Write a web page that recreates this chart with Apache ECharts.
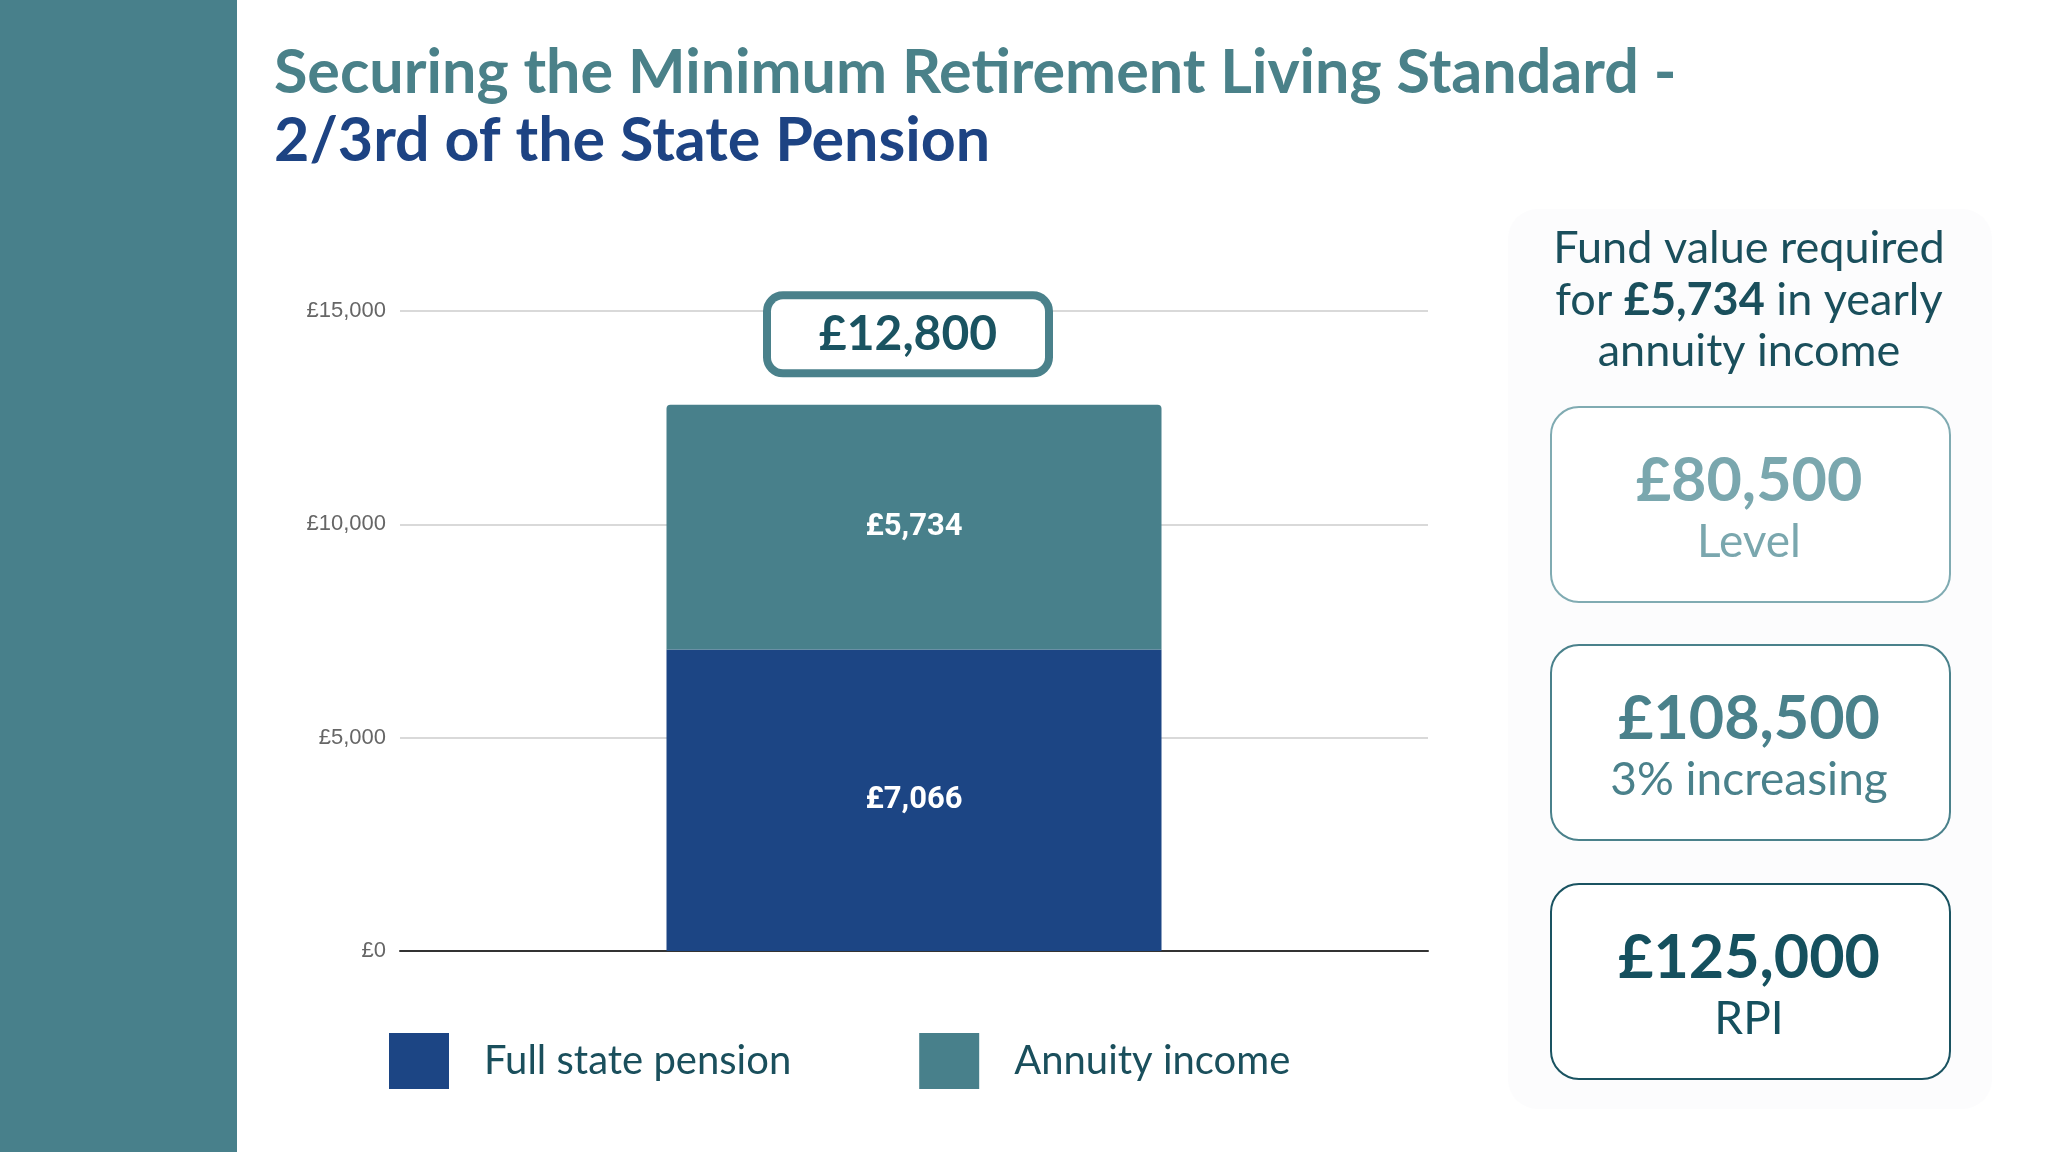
<!DOCTYPE html>
<html>
<head>
<meta charset="utf-8">
<script src="https://cdn.jsdelivr.net/npm/echarts@6/dist/echarts.min.js"></script>
<style>
html,body{margin:0;padding:0;background:#ffffff;}
#chart{width:2048px;height:1152px;}
</style>
</head>
<body>
<div id="chart"></div>
<script>
// ---- data ----
var categories = ['Minimum'];
var statePension = [7066];
var annuityIncome = [5734];
var seriesNames = ['Full state pension', 'Annuity income'];
var yTicks = [0, 5000, 10000, 15000];
var titleLines = ['Securing the Minimum Retirement Living Standard -', '2/3rd of the State Pension'];
var fundValues = ['£80,500', '£108,500', '£125,000'];
var fundTypes = ['Level', '3% increasing', 'RPI'];
var annuityTarget = '£5,734';

var totals = statePension.map(function (v, i) { return v + annuityIncome[i]; });
function gbp(v) { return '£' + Number(v).toLocaleString('en-GB'); }

var chart = echarts.init(document.getElementById('chart'));

var boxStroke = ['#80abb2', '#4a818b', '#1a5361'];
var boxText = ['#7aa7ae', '#4a818b', '#15505e'];
var boxTop = [406, 644, 883];

var graphics = [
  { type: 'rect', left: 0, top: 0, shape: { width: 237, height: 1152 }, style: { fill: '#48808b' }, z: -10 },
  { type: 'rect', left: 1508, top: 209, shape: { width: 484, height: 900, r: 30 }, style: { fill: '#fcfcfd' }, z: -10 },
  { type: 'text', x: 1749, y: 248, style: { text: 'Fund value required', font: '45px Lato', fill: '#1a4f5c', textAlign: 'center', textVerticalAlign: 'middle' } },
  { type: 'text', x: 1749, y: 300, style: {
      text: 'for {b|' + annuityTarget + '} in yearly', font: '45px Lato', fill: '#1a4f5c', textAlign: 'center', textVerticalAlign: 'middle',
      rich: { b: { fontFamily: 'Lato', fontSize: 45, fontWeight: 'bold', fill: '#1a4f5c' } } } },
  { type: 'text', x: 1749, y: 351, style: { text: 'annuity income', font: '45px Lato', fill: '#1a4f5c', textAlign: 'center', textVerticalAlign: 'middle' } }
];
fundValues.forEach(function (v, i) {
  graphics.push({ type: 'rect', left: 1550, top: boxTop[i], shape: { width: 399, height: 195, r: 28 },
    style: { fill: '#ffffff', stroke: boxStroke[i], lineWidth: 2 } });
  graphics.push({ type: 'text', x: 1749, y: boxTop[i] + 75, style: { text: v, font: 'bold 61px Lato', fill: boxText[i], textAlign: 'center', textVerticalAlign: 'middle' } });
  graphics.push({ type: 'text', x: 1749, y: boxTop[i] + 136, style: { text: fundTypes[i], font: '46px Lato', fill: boxText[i], textAlign: 'center', textVerticalAlign: 'middle' } });
});

var option = {
  backgroundColor: '#ffffff',
  animation: false,
  title: [
    { text: titleLines[0], left: 269, top: 38, textStyle: { fontFamily: 'Lato', fontWeight: 'bold', fontSize: 61, color: '#4a8189' } },
    { text: titleLines[1], left: 269, top: 106, textStyle: { fontFamily: 'Lato', fontWeight: 'bold', fontSize: 61, color: '#1d4383' } }
  ],
  legend: {
    data: seriesNames,
    left: 389, top: 1033,
    itemWidth: 60, itemHeight: 56, itemGap: 128,
    icon: 'rect',
    padding: 0,
    textStyle: { fontFamily: 'Lato', fontSize: 40, color: '#1a4f5c', padding: [0, 0, 0, 30] }
  },
  grid: { left: 400, right: 620, top: 311, bottom: 201, containLabel: false },
  xAxis: {
    type: 'category', data: categories,
    axisLine: { show: true, lineStyle: { color: '#333333', width: 2 } },
    axisTick: { show: false }, axisLabel: { show: false }
  },
  yAxis: {
    type: 'value', min: yTicks[0], max: yTicks[yTicks.length - 1], interval: yTicks[1] - yTicks[0],
    axisLine: { show: false }, axisTick: { show: false },
    axisLabel: { formatter: gbp, fontFamily: 'Liberation Sans', fontSize: 22, color: '#666666', margin: 14 },
    splitLine: { lineStyle: { color: '#cccccc', width: 1.5 } }
  },
  graphic: graphics,
  series: [
    { name: seriesNames[0], type: 'bar', stack: 'total', data: statePension, barWidth: 495,
      itemStyle: { color: '#1c4584' },
      label: { show: true, position: 'inside', formatter: function (p) { return gbp(p.value); },
        fontFamily: 'Roboto', fontWeight: 'bold', fontSize: 31, color: '#ffffff' } },
    { name: seriesNames[1], type: 'bar', stack: 'total', data: annuityIncome, barWidth: 495,
      itemStyle: { color: '#48808b', borderRadius: [4, 4, 0, 0] },
      label: { show: true, position: 'inside', formatter: function (p) { return gbp(p.value); },
        fontFamily: 'Roboto', fontWeight: 'bold', fontSize: 31, color: '#ffffff' } },
    { name: 'Total', type: 'scatter', data: totals, symbol: 'rect', symbolSize: 1,
      itemStyle: { color: 'rgba(0,0,0,0)', opacity: 1 }, z: 10,
      label: { show: true, position: 'top', distance: 33, offset: [-6, -2], formatter: function (p) { return gbp(p.value); },
        fontFamily: 'Lato', fontWeight: 'bold', fontSize: 48, color: '#1a5361', opacity: 1,
        backgroundColor: '#ffffff', borderColor: '#4a818b', borderWidth: 8, borderRadius: 12,
        width: 274, height: 70, lineHeight: 70, align: 'center', padding: 0 } }
  ]
};
chart.setOption(option);
</script>
</body>
</html>
